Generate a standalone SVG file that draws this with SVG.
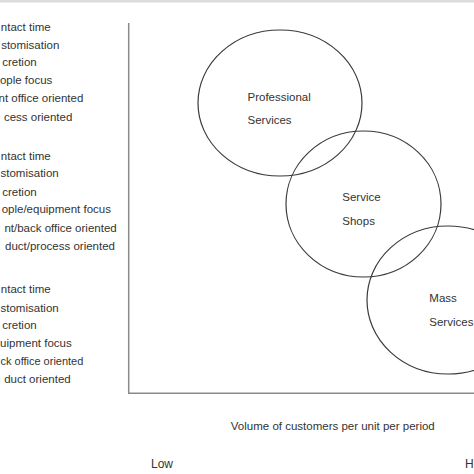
<svg xmlns="http://www.w3.org/2000/svg" width="474" height="474" viewBox="0 0 474 474">
<style>
text{font-family:"Liberation Sans",Arial,sans-serif;font-size:11.5px;fill:#333}
.l{text-anchor:end}
.c{fill:none;stroke:#3a3a3a;stroke-width:1.2}
.ax{fill:none;stroke:#8a8a8a;stroke-width:1.5}
</style>
<rect x="0" y="0" width="474" height="474" fill="#fff"/>
<rect x="0" y="0" width="474" height="2.5" fill="#dcdcdc"/>
<g id="axes">
<path class="ax" d="M128.7,23 V393.3 H474"/>
</g>
<g id="left-labels">
<text class="l" x="50.7" y="30.8">ntact time</text>
<text class="l" x="59.3" y="48.8">stomisation</text>
<text class="l" x="36.7" y="66.2">cretion</text>
<text class="l" x="52.3" y="83.8">ople focus</text>
<text class="l" x="83.3" y="102.2">nt office oriented</text>
<text class="l" x="72.3" y="120.5">cess oriented</text>
<text class="l" x="50.7" y="159.5">ntact time</text>
<text class="l" x="58.7" y="177.2">stomisation</text>
<text class="l" x="36.7" y="195.5">cretion</text>
<text class="l" x="111" y="213.2">ople/equipment focus</text>
<text class="l" x="116.7" y="231.5">nt/back office oriented</text>
<text class="l" x="115" y="249.8">duct/process oriented</text>
<text class="l" x="50.7" y="293.2">ntact time</text>
<text class="l" x="58.7" y="312.2">stomisation</text>
<text class="l" x="36.7" y="328.8">cretion</text>
<text class="l" x="71.7" y="347.2">uipment focus</text>
<text x="0.5" y="364.8" textLength="82.8" lengthAdjust="spacingAndGlyphs">ck office oriented</text>
<text class="l" x="70.7" y="382.8">duct oriented</text>
</g>
<g id="professional">
<ellipse class="c" cx="280" cy="103" rx="82" ry="73"/>
<text x="247.5" y="100.5">Professional</text>
<text x="247.5" y="123.8">Services</text>
</g>
<g id="service-shops">
<ellipse class="c" cx="363.5" cy="204" rx="77.5" ry="73"/>
<text x="342.3" y="201.2">Service</text>
<text x="342.3" y="224.5">Shops</text>
</g>
<g id="mass-services">
<ellipse class="c" cx="448" cy="300" rx="81" ry="74"/>
<text x="429.3" y="301.5">Mass</text>
<text x="429.3" y="325.5">Services</text>
</g>
<g id="x-axis-labels">
<text x="332.8" y="429.8" text-anchor="middle">Volume of customers per unit per period</text>
<text x="151" y="467.8" style="font-size:12px">Low</text>
<text x="465" y="467.8" style="font-size:12px">H</text>
</g>
</svg>
